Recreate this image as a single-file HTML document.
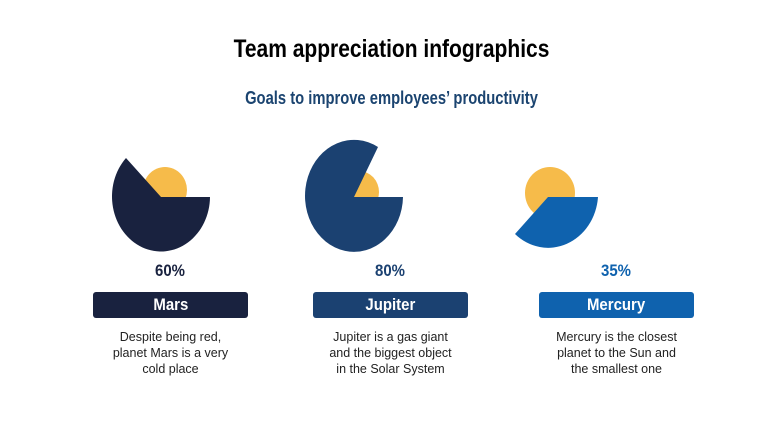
<!DOCTYPE html>
<html><head><style>
body{margin:0;width:783px;height:440px;background:#fff;position:relative;overflow:hidden;font-family:"Liberation Sans",sans-serif}
.t{position:absolute;left:0;width:783px;text-align:center}
.bar{position:absolute;top:292px;width:155px;height:26px;border-radius:3px;color:#fff;font-weight:bold;font-size:17px;line-height:26px;text-align:center}
.bar span,.p span{display:inline-block;transform:scaleX(0.88)}
.p{position:absolute;top:261px;width:155px;text-align:center;font-weight:bold;font-size:17px}
.d{position:absolute;top:329px;width:175px;text-align:center;font-size:12.5px;line-height:16px;color:#222}
</style></head><body>
<div class="t" style="top:35px;font-size:25px;font-weight:bold;color:#000;transform:scaleX(0.84)">Team appreciation infographics</div>
<div class="t" style="top:88px;font-size:18px;font-weight:bold;color:#1b4470;transform:scaleX(0.82)">Goals to improve employees’ productivity</div>
<svg width="783" height="440" style="position:absolute;left:0;top:0">
<ellipse cx="165" cy="190" rx="22" ry="23" fill="#f6bb4a"/>
<path d="M161,197 L210,197 A49,55 0 1 1 126,158 Z" fill="#19223f"/>
<ellipse cx="359" cy="192" rx="20" ry="21" fill="#f6bb4a"/>
<path d="M354,197 L403,197 A49,56 0 1 1 378,147 Z" fill="#1b4171"/>
<ellipse cx="550" cy="193" rx="25" ry="26" fill="#f6bb4a"/>
<path d="M548,197 L598,197 A50,55 0 0 1 515,234 Z" fill="#0f62ae"/>
</svg>
<div class="p" style="left:93px;color:#19223f"><span>60%</span></div>
<div class="p" style="left:313px;color:#1b4171"><span>80%</span></div>
<div class="p" style="left:539px;color:#0f62ae"><span>35%</span></div>
<div class="bar" style="left:93px;background:#19223f"><span>Mars</span></div>
<div class="bar" style="left:313px;background:#1b4171"><span>Jupiter</span></div>
<div class="bar" style="left:539px;background:#0f62ae"><span>Mercury</span></div>
<div class="d" style="left:83px">Despite being red,<br>planet Mars is a very<br>cold place</div>
<div class="d" style="left:303px">Jupiter is a gas giant<br>and the biggest object<br>in the Solar System</div>
<div class="d" style="left:529px">Mercury is the closest<br>planet to the Sun and<br>the smallest one</div>
</body></html>
